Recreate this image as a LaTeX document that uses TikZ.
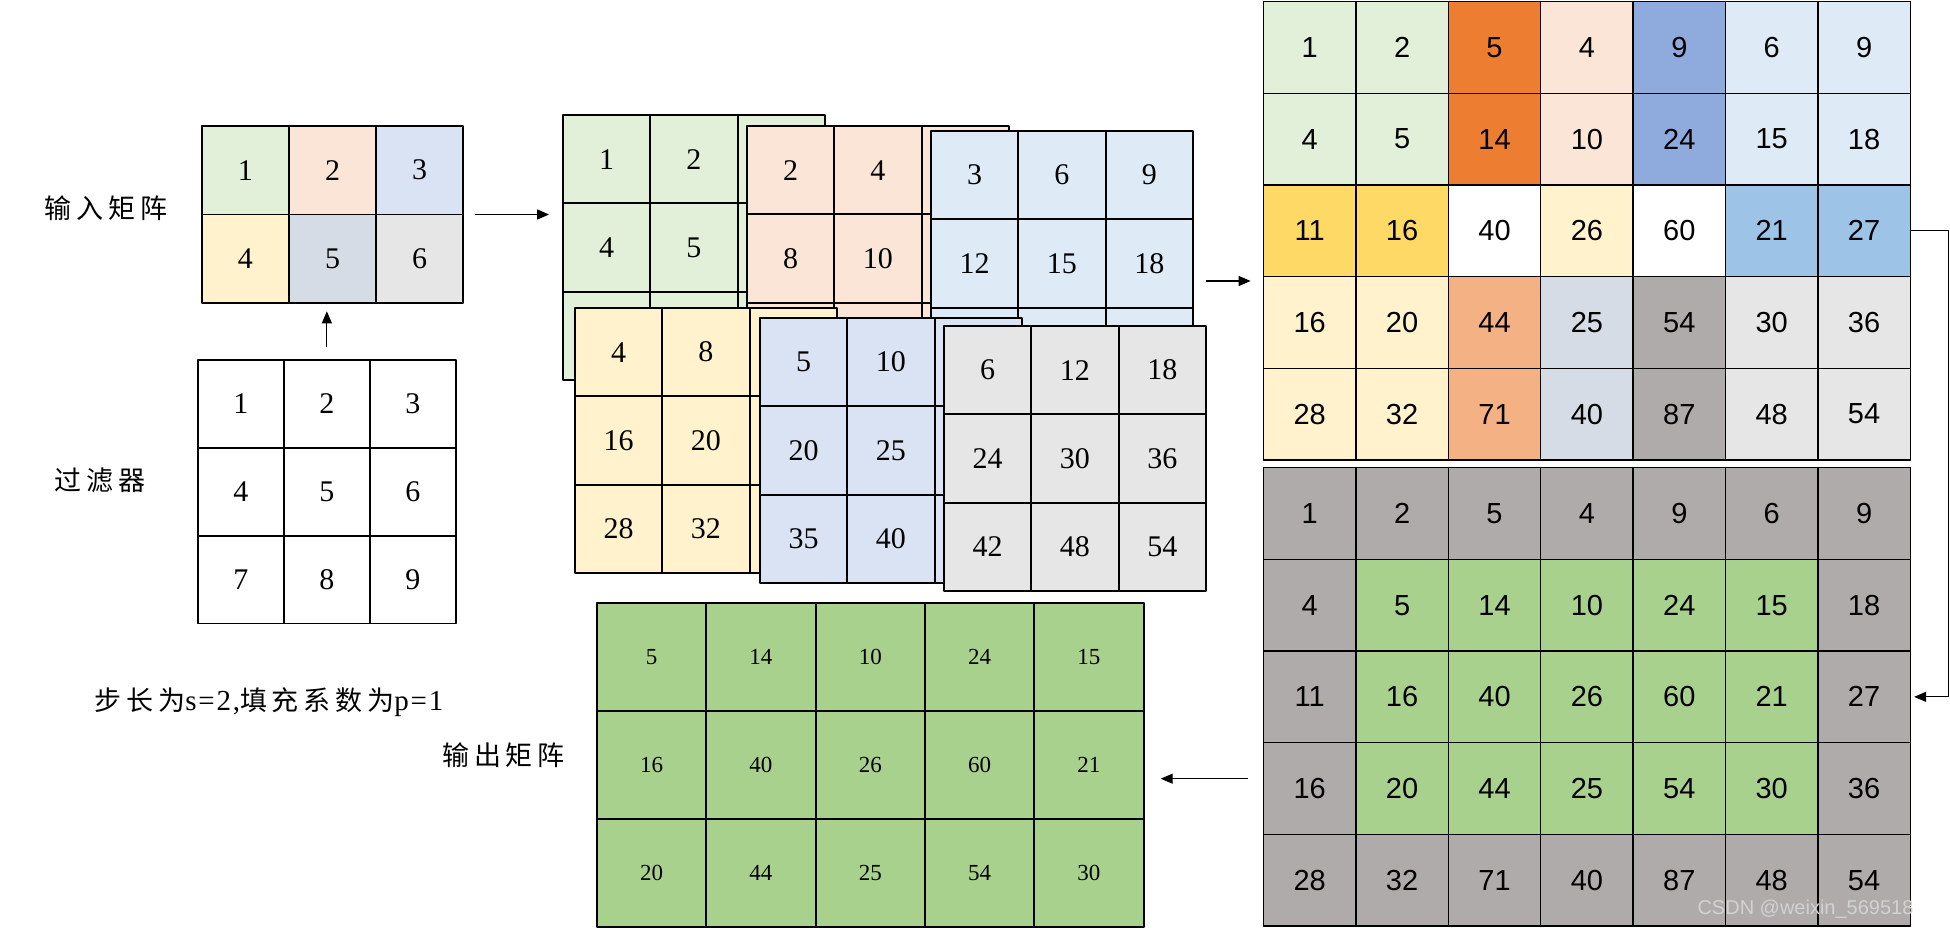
\documentclass[tikz,border=0pt]{standalone}
\usepackage{fontspec}
\setmainfont{Liberation Serif}
\newfontfamily\cjk[LetterSpace=18]{Noto Sans CJK SC}
\newfontfamily\spaced[LetterSpace=6]{Liberation Serif}
\newfontfamily\arial{Liberation Sans}
\usetikzlibrary{arrows.meta,fit}

\definecolor{cGreen}{HTML}{E2F0D9}
\definecolor{cPeach}{HTML}{FBE5D6}
\definecolor{cSky}{HTML}{DEEBF7}
\definecolor{cLav}{HTML}{DAE3F3}
\definecolor{cYellow}{HTML}{FFF2CC}
\definecolor{cSlate}{HTML}{D6DCE5}
\definecolor{cGray}{HTML}{E7E6E6}
\definecolor{cOrange}{HTML}{ED7D31}
\definecolor{cMidBlue}{HTML}{8FAADC}
\definecolor{cGold}{HTML}{FFD966}
\definecolor{cSteel}{HTML}{9DC3E6}
\definecolor{cSalmon}{HTML}{F4B183}
\definecolor{cTaupe}{HTML}{AFABAB}
\definecolor{cLeaf}{HTML}{A9D18E}

\begin{document}
\begin{tikzpicture}[x=1pt,y=-1pt,line join=round,
    num/.style={draw,line width=1.8pt,inner sep=0pt,font=\fontsize{30}{30}\selectfont},
    big/.style={draw,line width=1.3pt,inner sep=0pt,minimum width=92.4pt,minimum height=91.7pt,font=\arial\fontsize{29}{29}\selectfont},
    res/.style={draw,line width=2pt,inner sep=0pt,minimum width=109.3pt,minimum height=108pt,fill=cLeaf,font=\fontsize{23}{23}\selectfont},
    lab/.style={inner sep=0pt,font=\cjk\fontsize{27}{27}\selectfont},
    arr/.style={-{Triangle[length=12pt,width=10pt]},line width=1.2pt}]
\useasboundingbox (0,0) rectangle (1950,928);

% input matrix
\foreach \v/\fc [count=\i from 0] in {1/cGreen,2/cPeach,3/cLav,4/cYellow,5/cSlate,6/cGray}{
  \pgfmathtruncatemacro\rr{(\i+.5)/3}
  \pgfmathtruncatemacro\cc{mod(\i,3)}
  \node[num,fill=\fc,minimum width=87.2pt,minimum height=88.7pt] (in-\rr-\cc)
    at ({201.7+87.2*(\cc+.5)},{125.8+88.7*(\rr+.5)}) {\v};
}
\node[lab] (inlab) at (106,208.5) {输入矩阵};

% filter
\foreach \v [count=\i from 0] in {1,2,3,4,5,6,7,8,9}{
  \pgfmathtruncatemacro\rr{(\i+.5)/3}
  \pgfmathtruncatemacro\cc{mod(\i,3)}
  \node[num,fill=white,minimum width=86.1pt,minimum height=87.8pt] (f-\rr-\cc)
    at ({197.7+86.1*(\cc+.5)},{360+87.8*(\rr+.5)}) {\v};
}
\node[lab] (flab) at (100,480.5) {过滤器};

% stacked products, back to front
\foreach \n/\x/\y/\fc/\vals in {
    g/563/115/cGreen/{1,2,{},4,5,{},{},{},{}},
    p/747/126/cPeach/{2,4,{},8,10,{},{},{},{}},
    b/931/131/cSky/{3,6,9,12,15,18,{},{},{}},
    y/575/308/cYellow/{4,8,{},16,20,{},28,32,{}},
    u/760/318/cLav/{5,10,{},20,25,{},35,40,{}},
    k/944/326/cGray/{6,12,18,24,30,36,42,48,54}}{
  \foreach \v [count=\i from 0] in \vals{
    \pgfmathtruncatemacro\rr{(\i+.5)/3}
    \pgfmathtruncatemacro\cc{mod(\i,3)}
    \node[num,fill=\fc,minimum width=87.3pt,minimum height=88.3pt] (\n-\rr-\cc)
      at ({\x+87.3*(\cc+.5)},{\y+88.3*(\rr+.5)}) {\v};
  }
}

% summed matrix
\foreach \v/\fc [count=\i from 0] in {
    1/cGreen,2/cGreen,5/cOrange,4/cPeach,9/cMidBlue,6/cSky,9/cSky,
    4/cGreen,5/cGreen,14/cOrange,10/cPeach,24/cMidBlue,15/cSky,18/cSky,
    11/cGold,16/cGold,40/white,26/cYellow,60/white,21/cSteel,27/cSteel,
    16/cYellow,20/cYellow,44/cSalmon,25/cSlate,54/cTaupe,30/cGray,36/cGray,
    28/cYellow,32/cYellow,71/cSalmon,40/cSlate,87/cTaupe,48/cGray,54/cGray}{
  \pgfmathtruncatemacro\rr{(\i+.5)/7}
  \pgfmathtruncatemacro\cc{mod(\i,7)}
  \node[big,fill=\fc] (t-\rr-\cc) at ({1263.5+92.4*(\cc+.5)},{1.5+91.7*(\rr+.5)}) {\v};
}

% cropped by padding
\foreach \v [count=\i from 0] in {1,2,5,4,9,6,9,4,5,14,10,24,15,18,11,16,40,26,60,21,27,
    16,20,44,25,54,30,36,28,32,71,40,87,48,54}{
  \pgfmathtruncatemacro\rr{(\i+.5)/7}
  \pgfmathtruncatemacro\cc{mod(\i,7)}
  \pgfmathtruncatemacro\ins{and(and(\rr>0,\rr<4),and(\cc>0,\cc<6))}
  \ifnum\ins=1 \def\fc{cLeaf}\else\def\fc{cTaupe}\fi
  \node[big,fill=\fc] (d-\rr-\cc) at ({1263.5+92.4*(\cc+.5)},{467.7+91.66*(\rr+.5)}) {\v};
}

% output matrix
\foreach \v [count=\i from 0] in {5,14,10,24,15,16,40,26,60,21,20,44,25,54,30}{
  \pgfmathtruncatemacro\rr{(\i+.5)/5}
  \pgfmathtruncatemacro\cc{mod(\i,5)}
  \node[res] (o-\rr-\cc) at ({597+109.3*(\cc+.5)},{602.7+108*(\rr+.5)}) {\v};
}
\node[lab] (slab) at (269,701.7) {步长为{\spaced\fontsize{29}{29}\selectfont s=2,}填充系数为{\spaced\fontsize{29}{29}\selectfont p=1}};
\node[lab] (olab) at (503.5,755) {输出矩阵};

\node[fit=(in-0-0)(in-1-2),inner sep=0pt] (input) {};
\node[fit=(t-0-0)(t-4-6),inner sep=0pt] (top) {};
\node[fit=(d-0-0)(d-4-6),inner sep=0pt] (bot) {};
\node[fit=(o-0-0)(o-2-4),inner sep=0pt] (out) {};
\coordinate (s3) at (1206,281);
\coordinate (s5) at (1248,778.7);

\draw[arr,shorten <=12pt,shorten >=7pt] (f-0-1.north) -- (f-0-1.north |- input.south);
\draw[arr,shorten <=11pt,shorten >=13pt] (input.east) -- (input.east -| g-1-0.west);
\draw[arr,shorten >=12pt] (s3) -- (s3 -| top.west);
\draw[arr,shorten >=3pt] (top.east) -- ++(37.5,0) |- (bot.east);
\draw[arr,shorten >=16pt] (s5) -- (s5 -| out.east);

\node[font=\arial\fontsize{20}{20}\selectfont,text=gray!35,inner sep=0pt] (wmark) at (1805.5,909) {CSDN @weixin\_569518};
\end{tikzpicture}
\end{document}
